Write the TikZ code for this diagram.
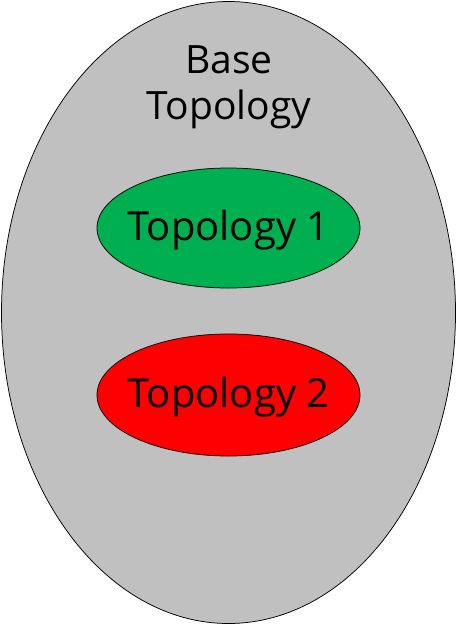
\documentclass[tikz,border=0pt]{standalone}
\usepackage{fontspec}
\setmainfont{Open Sans}
\definecolor{outergray}{HTML}{C0C0C0}
\definecolor{topogreen}{HTML}{00B050}
\definecolor{topored}{HTML}{FF0000}
\tikzset{
  blob/.style={draw=black, line width=0.75pt},
  lbl/.style={font=\fontsize{40}{46}\selectfont, align=center, text=black},
  baselbl/.style={font=\fontsize{39}{46}\selectfont, align=center, text=black}
}
\begin{document}
\begin{tikzpicture}[x=1pt,y=-1pt]
\useasboundingbox (0,0) rectangle (457,625);
\fill[white] (0,0) rectangle (457,625);
\draw[blob, fill=outergray] (228.5,312.5) ellipse [x radius=227, y radius=311];
\draw[blob, fill=topogreen] (228.5,228) ellipse [x radius=131.5, y radius=60];
\draw[blob, fill=topored] (228.5,395) ellipse [x radius=131.5, y radius=61];
\node[baselbl] (base) at (229,87) {Base\\Topology};
\node[lbl] (t1) at (228.5,230) {Topology 1};
\node[lbl] (t2) at (228.5,397) {Topology 2};
\end{tikzpicture}
\end{document}
